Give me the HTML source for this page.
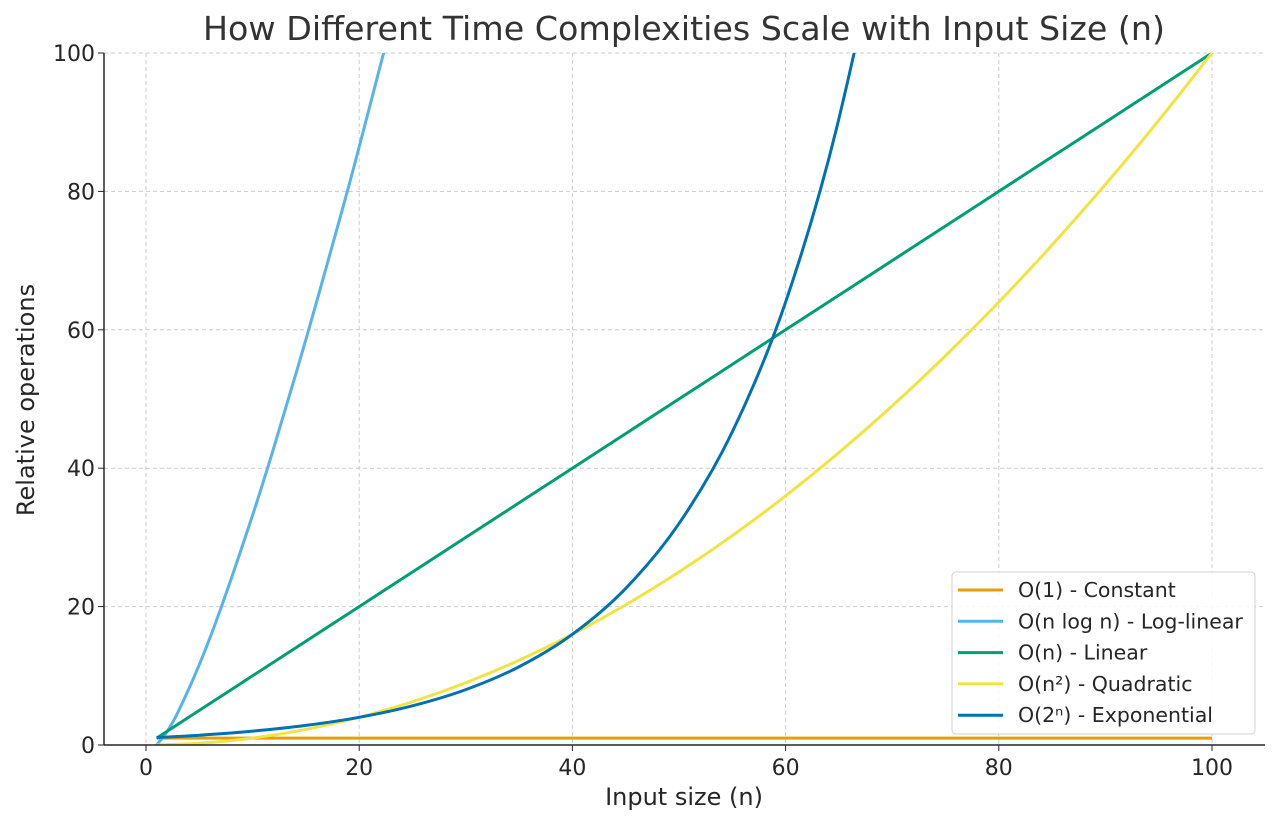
<!DOCTYPE html>
<html><head><meta charset="utf-8"><style>
body{margin:0;background:#fff;font-family:"Liberation Sans","DejaVu Sans",sans-serif}
svg text{font-family:"DejaVu Sans","Liberation Sans",sans-serif;fill:#262626}
</style></head><body>
<svg id="chart" width="1280" height="825" xmlns="http://www.w3.org/2000/svg">
<text x="684" y="40" font-size="33.3" text-anchor="middle" style="fill:#333">How Different Time Complexities Scale with Input Size (n)</text>
<defs><clipPath id="pc"><rect x="104" y="53" width="1161" height="692"/></clipPath></defs>
<g id="grid"></g><g id="series" clip-path="url(#pc)"></g><g id="axes"></g>
<text x="684" y="805" font-size="24" text-anchor="middle">Input size (n)</text>
<text x="34" y="400" font-size="24" text-anchor="middle" transform="rotate(-90 34 400)">Relative operations</text>
<g id="legend"></g>
</svg>
<script>
const xTicks=[0,20,40,60,80,100];
const yTicks=[0,20,40,60,80,100];
const xsMain=[1,5,10,15,20,25,30,35,40,45,50,55,60,65,70,75,80,85,90,95,100];
const constVals=[1,1,1,1,1,1,1,1,1,1,1,1,1,1,1,1,1,1,1,1,1];
const linearVals=[1,5,10,15,20,25,30,35,40,45,50,55,60,65,70,75,80,85,90,95,100];
const quadVals=[0.01,0.25,1,2.25,4,6.25,9,12.25,16,20.25,25,30.25,36,42.25,49,56.25,64,72.25,81,90.25,100];
const xsExp=[1,5,10,15,20,25,30,35,40,45,50,55,60,65,70,75];
const expVals=[1.07,1.41,2,2.83,4,5.66,8,11.31,16,22.63,32,45.25,64,90.51,128,181];
const xsLog=[1,2,3,5,7,10,12,15,18,20,25];
const logVals=[0,2,4.75,11.61,19.65,33.22,43.02,58.6,75.06,86.44,116.1];
const seriesNames=["O(1) - Constant","O(n log n) - Log-linear","O(n) - Linear","O(n²) - Quadratic","O(2ⁿ) - Exponential"];
const NS="http://www.w3.org/2000/svg";
const X=v=>146+v*10.66, Y=v=>745-v*6.92;
function mk(t,a,p){const e=document.createElementNS(NS,t);for(const k in a)e.setAttribute(k,a[k]);p.appendChild(e);return e;}
const grid=document.getElementById('grid'),axes=document.getElementById('axes'),ser=document.getElementById('series'),leg=document.getElementById('legend');
xTicks.forEach(t=>{
 const g=mk('line',{x1:X(t),x2:X(t),y1:53,y2:745,stroke:'#cccccc','stroke-dasharray':'4,3','stroke-width':1},grid);
 
 
 const tk=mk('line',{x1:X(t),x2:X(t),y1:745,y2:751,stroke:'#262626'},axes);
 
 
 const tx=mk('text',{x:X(t),y:775,'font-size':22,'text-anchor':'middle'},axes);tx.textContent=t;
 
 
});
yTicks.forEach(t=>{
 const g=mk('line',{x1:104,x2:1265,y1:Y(t),y2:Y(t),stroke:'#cccccc','stroke-dasharray':'4,3','stroke-width':1},grid);
 
 
 const tk=mk('line',{x1:98,x2:104,y1:Y(t),y2:Y(t),stroke:'#262626'},axes);
 
 
 const tx=mk('text',{x:95,y:Y(t)+8,'font-size':22,'text-anchor':'end'},axes);tx.textContent=t;
 
 
});
const sp1=mk('line',{x1:104,x2:104,y1:53,y2:745,stroke:'#262626','stroke-width':1.5},axes);


const sp2=mk('line',{x1:104,x2:1265,y1:745,y2:745,stroke:'#262626','stroke-width':1.5},axes);


function path(xs,ys){const p=xs.map((x,i)=>[X(x),Y(ys[i])]);let d=`M${p[0][0]},${p[0][1]}`;
 for(let i=0;i<p.length-1;i++){const p0=p[i-1]||p[i],p1=p[i],p2=p[i+1],p3=p[i+2]||p2;
  d+=` C${p1[0]+(p2[0]-p0[0])/6},${p1[1]+(p2[1]-p0[1])/6} ${p2[0]-(p3[0]-p1[0])/6},${p2[1]-(p3[1]-p1[1])/6} ${p2[0]},${p2[1]}`;}
 return d;}
const defs=[[xsMain,constVals,'#E69F00','line-constant'],[xsLog,logVals,'#56B4E9','line-loglinear'],[xsMain,linearVals,'#009E73','line-linear'],[xsMain,quadVals,'#F0E442','line-quadratic'],[xsExp,expVals,'#0072B2','line-exponential']];
defs.forEach(s=>{const e=mk('path',{d:path(s[0],s[1]),fill:'none',stroke:s[2],'stroke-width':3},ser);
 
 });
const box=mk('rect',{x:952,y:572,width:303,height:162,rx:4,fill:'#fff','fill-opacity':0.85,stroke:'#d0d0d0'},leg);


seriesNames.forEach((n,i)=>{const y=590+i*31.3;
 const l=mk('line',{x1:958,x2:1003,y1:y,y2:y,stroke:defs[i][2],'stroke-width':3},leg);
 
 
 const t=mk('text',{x:1018,y:y+7,'font-size':20.5,textLength:0},leg);t.textContent=n;t.removeAttribute('textLength');
 
 });
</script>
</body></html>
